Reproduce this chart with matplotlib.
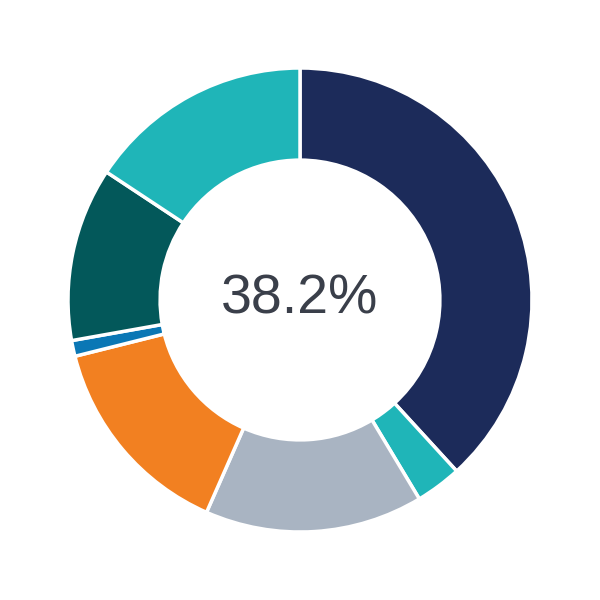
import matplotlib.pyplot as plt

labels = ['A', 'B', 'C', 'D', 'E', 'F', 'G']
values = [38.2, 3.2, 15.2, 14.5, 1.1, 12.1, 15.7]
colors = ['#1c2b5a', '#1fb5b8', '#a9b4c2', '#f28021', '#0a77b5', '#03585a', '#1fb5b8']
center_label = '38.2%'

fig = plt.figure(figsize=(6, 6), dpi=100)
ax = fig.add_axes([0, 0, 1, 1])

# donut, clockwise from 12 o'clock
ax.pie(values, colors=colors, startangle=90, counterclock=False, radius=1,
       wedgeprops=dict(width=0.397, edgecolor='white', linewidth=2.5))
ax.text(0, 0, center_label, ha='center', va='center', fontsize=40,
        color='#3a3f4a', family='Liberation Sans')

lim = 300 / 232
ax.set_xlim(-lim, lim)
ax.set_ylim(-lim, lim)
ax.set_aspect('equal')
ax.axis('off')

fig.savefig('out.png', dpi=100, facecolor='white')
